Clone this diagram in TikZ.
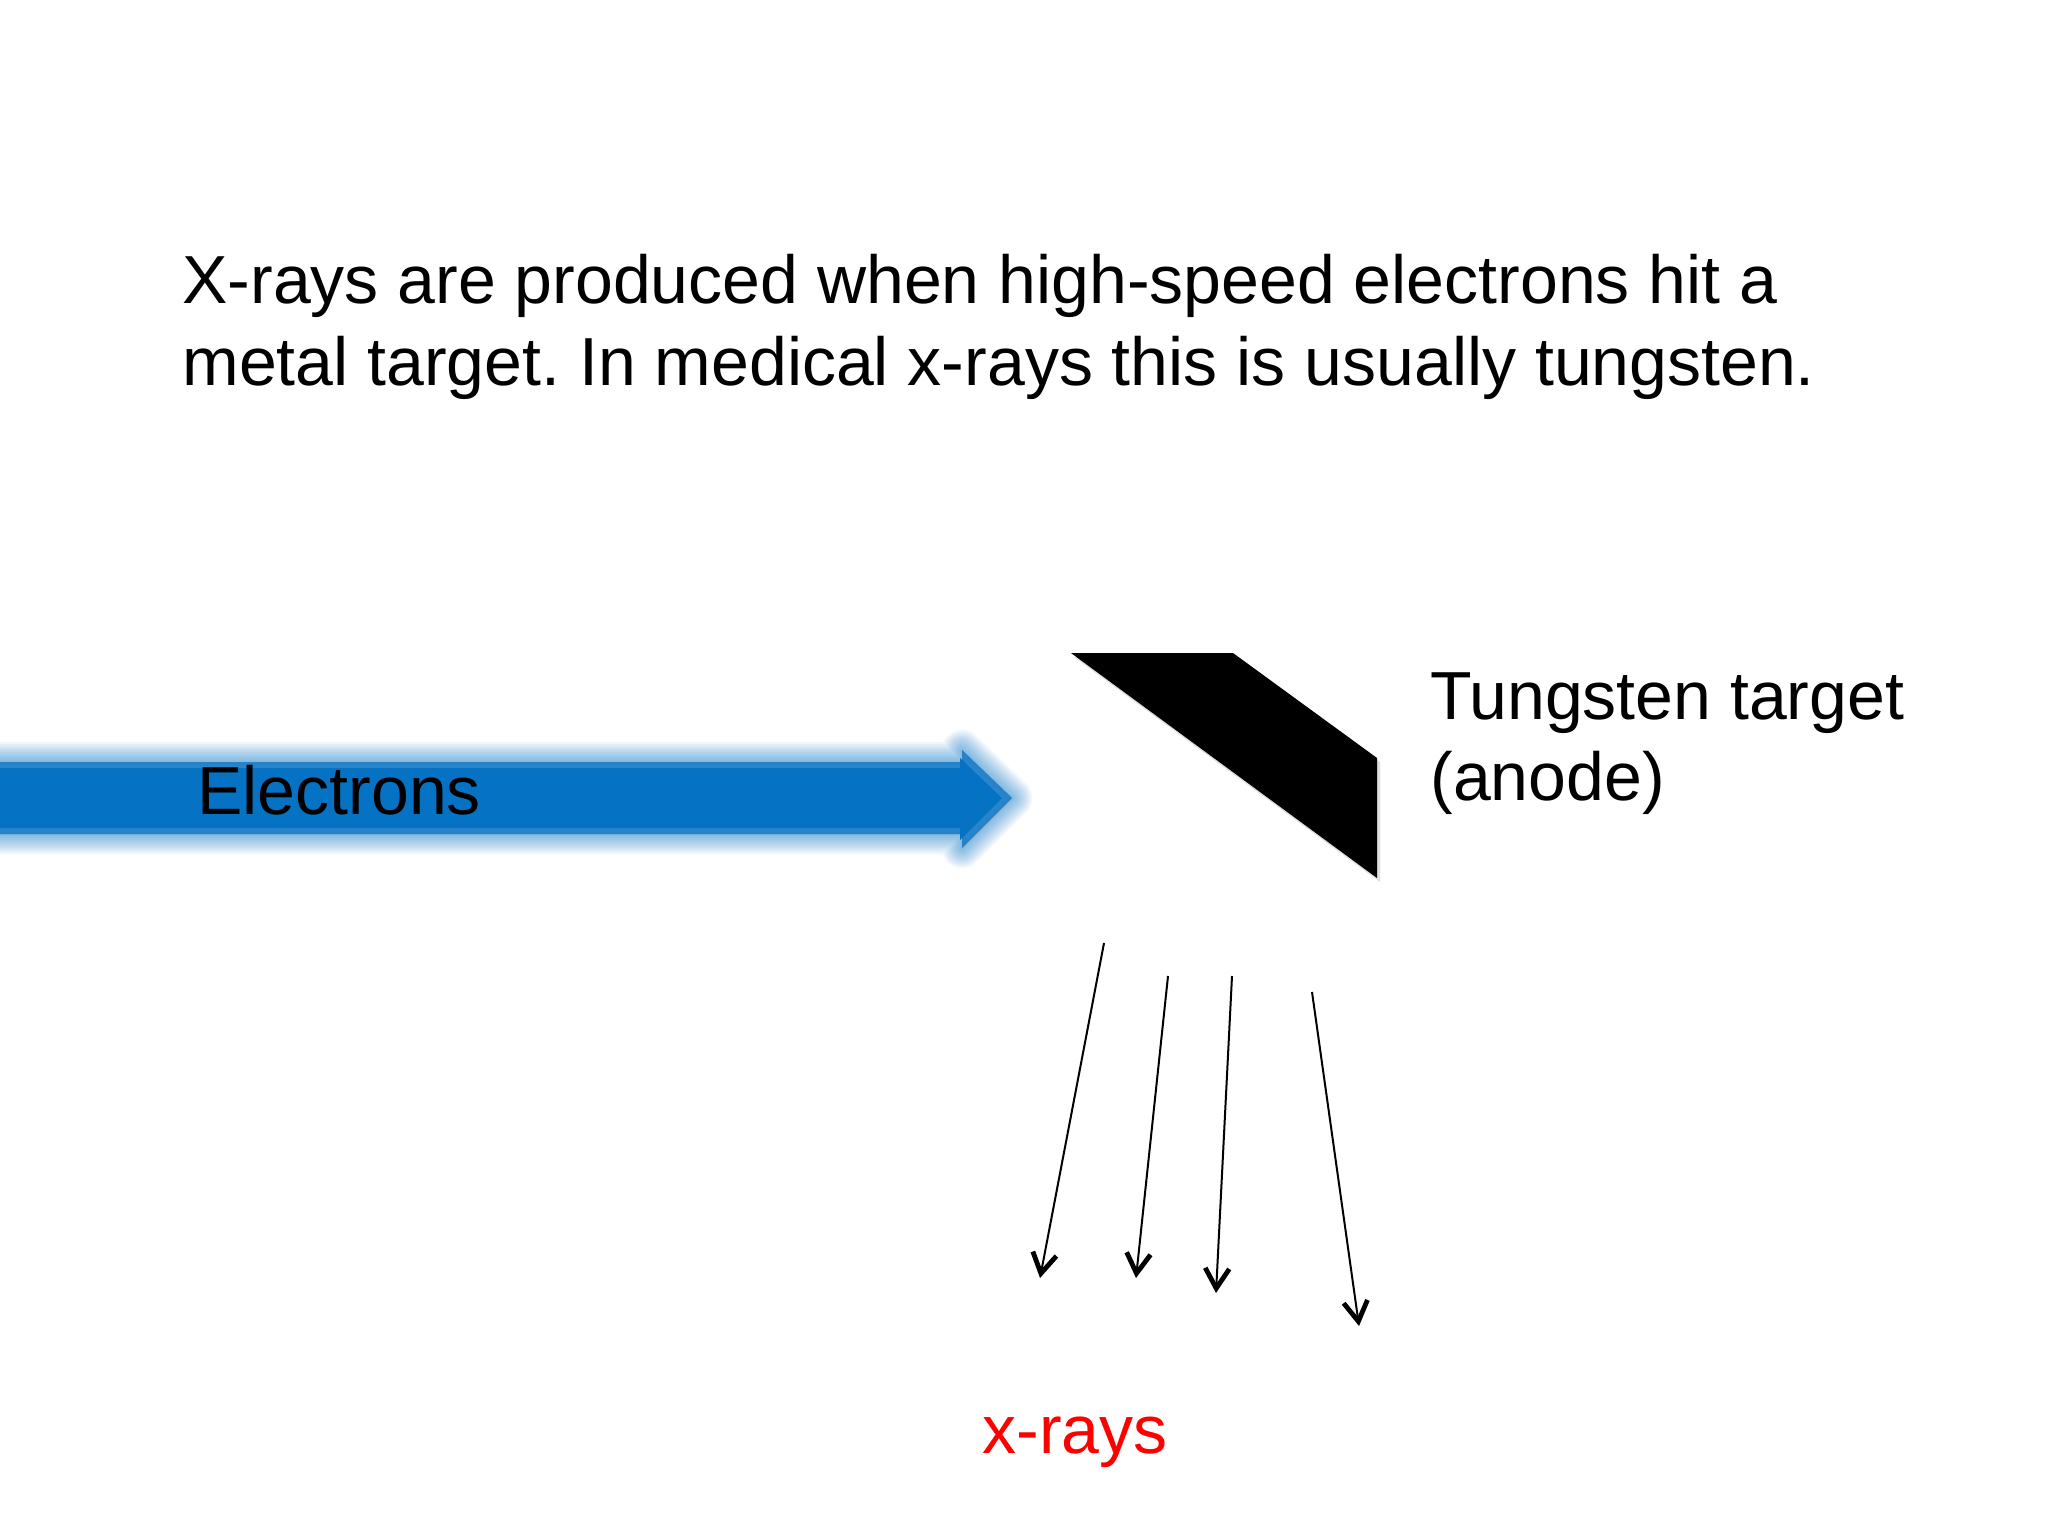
\documentclass[tikz,border=0pt]{standalone}
\usepackage{fontspec}
\setmainfont{Liberation Sans}
\usetikzlibrary{arrows.meta}
\definecolor{eblue}{RGB}{6,114,196}
\definecolor{xred}{RGB}{255,0,0}
\tikzset{
  lbl/.style={anchor=base west, inner sep=0pt, font=\fontsize{34}{41}\selectfont},
  ray/.style={line width=1pt, black, -{Straight Barb[length=10pt,width=12pt,line width=2.4pt]}},
  glow/.style={draw=eblue, fill=eblue, line join=round, opacity=0.06},
}
\frenchspacing
\begin{document}
\begin{tikzpicture}[x=0.5pt,y=-0.5pt]
\useasboundingbox (0,0) rectangle (2048,1536);
\fill[white] (0,0) rectangle (2048,1536);
% blurred electron beam
\def\beam{(-60,762) -- (962,762) -- (962,750) -- (1012,798) -- (962,848) -- (962,834) -- (-60,834) -- cycle}
\def\core{(-60,768) -- (960,768) -- (960,758) -- (1002,798) -- (960,840) -- (960,828) -- (-60,828) -- cycle}
\foreach \w in {40,36,32,28,24,20,16,12,8,4}{
  \path[glow, line width=\w*0.5pt] \beam;
}
\fill[eblue, opacity=0.55] \beam;
\fill[eblue] \core;
% target shadow + target
\fill[black!25, opacity=0.5] (1074,657) -- (1236,657) -- (1380,762) -- (1380,882) -- cycle;
\fill[black] (1071,653) -- (1233,653) -- (1377,758) -- (1377,878) -- cycle;
% texts
\node[lbl] (t1) at (182,303) {X-rays are produced when high-speed electrons hit a};
\node[lbl] (t2) at (182,385) {metal target. In medical x-rays this is usually tungsten.};
\node[lbl] (el) at (197,814) {Electrons};
\node[lbl] (tg1) at (1430,719) {Tungsten target};
\node[lbl] (tg2) at (1430,800) {(anode)};
\node[lbl, text=xred] (xr) at (982,1453) {x-rays};
% x-ray arrows
\coordinate (a1s) at (1104,943); \coordinate (a1e) at (1040,1278);
\coordinate (a2s) at (1168,976); \coordinate (a2e) at (1136,1278);
\coordinate (a3s) at (1232,976); \coordinate (a3e) at (1216,1293);
\coordinate (a4s) at (1312,992); \coordinate (a4e) at (1359,1326);
\draw[ray] (a1s) -- (a1e);
\draw[ray] (a2s) -- (a2e);
\draw[ray] (a3s) -- (a3e);
\draw[ray] (a4s) -- (a4e);
\end{tikzpicture}
\end{document}
